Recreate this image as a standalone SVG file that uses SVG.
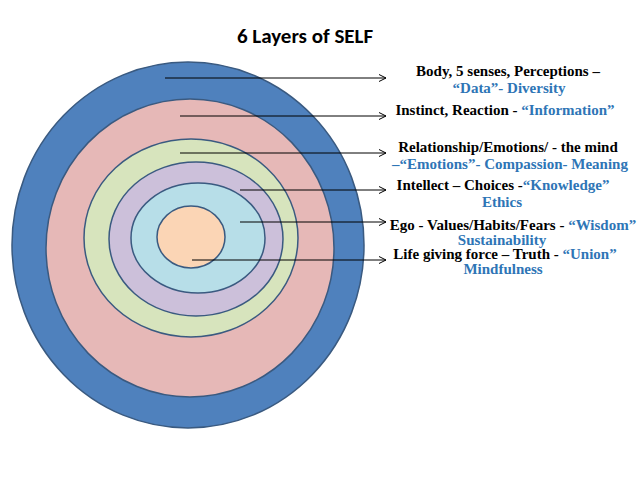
<svg xmlns="http://www.w3.org/2000/svg" width="638" height="479" viewBox="0 0 638 479">
<style>
.c{stroke:#3a5a80;stroke-width:1.5}
.t{font-family:"Liberation Serif",serif;font-weight:bold;font-size:15px;fill:#000;text-anchor:middle}
.b{fill:#2e75b6}
.a{stroke:#000;stroke-width:1;fill:none;marker-end:url(#m)}
</style>
<defs><marker id="m" markerWidth="8" markerHeight="8" refX="7" refY="4" orient="auto" markerUnits="userSpaceOnUse"><path d="M0,0.5 L7,4 L0,7.5" fill="none" stroke="#000"/></marker></defs>
<rect width="638" height="479" fill="#fff"/>
<text x="305" y="43" font-family="Carlito,'Liberation Sans',sans-serif" font-weight="bold" font-size="21" text-anchor="middle">6 Layers of SELF</text>
<g id="n1"><ellipse class="c" cx="188" cy="245" rx="176" ry="183" fill="#4f81bd"/></g>
<g id="n2"><ellipse class="c" cx="190" cy="248" rx="144" ry="149" fill="#e6b8b7"/></g>
<g id="n3"><ellipse class="c" cx="191" cy="238" rx="107" ry="99" fill="#d7e4bd"/></g>
<g id="n4"><ellipse class="c" cx="196" cy="239" rx="87" ry="77" fill="#ccc0da"/></g>
<g id="n5"><ellipse class="c" cx="198" cy="238" rx="67" ry="55" fill="#b7dee8"/></g>
<g id="n6"><ellipse class="c" cx="191" cy="237" rx="34" ry="31" fill="#fbd5b5"/></g>
<g id="connectors">
<line class="a" x1="165" y1="78" x2="386" y2="78"/>
<line class="a" x1="180" y1="116" x2="386" y2="116"/>
<line class="a" x1="180" y1="153" x2="386" y2="153"/>
<line class="a" x1="240" y1="190" x2="386" y2="190"/>
<line class="a" x1="240" y1="222" x2="386" y2="222"/>
<line class="a" x1="192" y1="260" x2="386" y2="260"/>
</g>
<g id="labels">
<text class="t" x="508" y="76">Body, 5 senses, Perceptions –</text>
<text class="t" x="509" y="93"><tspan class="b">“Data”- Diversity</tspan></text>
<text class="t" x="505" y="115">Instinct, Reaction - <tspan class="b">“Information”</tspan></text>
<text class="t" x="508" y="152">Relationship/Emotions/ - the mind</text>
<text class="t" x="510" y="169"><tspan class="b">–“Emotions”- Compassion- Meaning</tspan></text>
<text class="t" x="503" y="190">Intellect – Choices -<tspan class="b">“Knowledge”</tspan></text>
<text class="t" x="502" y="207"><tspan class="b">Ethics</tspan></text>
<text class="t" x="513" y="230">Ego - Values/Habits/Fears - <tspan class="b">“Wisdom”</tspan></text>
<text class="t" x="502" y="245"><tspan class="b">Sustainability</tspan></text>
<text class="t" x="505" y="259">Life giving force – Truth - <tspan class="b">“Union”</tspan></text>
<text class="t" x="503" y="274"><tspan class="b">Mindfulness</tspan></text>
</g>
</svg>
